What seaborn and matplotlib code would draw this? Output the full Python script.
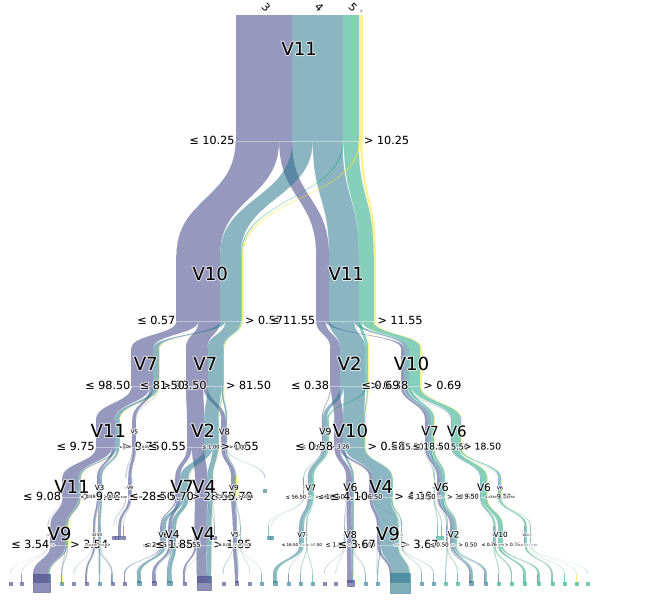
import numpy as np
import pandas as pd
import matplotlib
matplotlib.use("Agg")
import matplotlib.pyplot as plt
import seaborn as sns
from matplotlib.path import Path
from matplotlib.patches import PathPatch, Rectangle
import matplotlib.patheffects as pe

# ---------------- data ----------------
class_names = ["3", "4", "5", "6"]

# internal (split) nodes, identified by their path from the root (L = "<=", R = ">")
split_path = [
    "", "L", "LL", "LLL", "LLLL", "LLLLL", "LLLLR", "LLLR", "LLLRL", "LLLRR",
    "LLR", "LLRL", "LLRR",
    "LR", "LRL", "LRLL", "LRLLL", "LRLLR", "LRLR", "LRLRL",
    "LRR", "LRRL", "LRRLL", "LRRLR",
    "R", "RL", "RLL", "RLLL", "RLLR", "RLLRL", "RLLRR",
    "RLR", "RLRL", "RLRLL", "RLRLR", "RLRR", "RLRRL", "RLRRR",
    "RR", "RRL", "RRLL", "RRLR", "RRLRL", "RRLRR",
    "RRR", "RRRL", "RRRLL", "RRRLR", "RRRR", "RRRRL", "RRRRR",
]
split_feature = [
    "V11", "V10", "V7", "V11", "V11", "V10", "V9", "V3", "V2", "V3",
    "V5", "V1", "V9",
    "V7", "V2", "V7", "V6", "V4", "V4", "V4",
    "V8", "V9", "V5", "V7",
    "V11", "V2", "V9", "V7", "V7", "V7", "V3",
    "V10", "V6", "V2", "V8", "V4", "V9", "V1",
    "V10", "V7", "V10", "V6", "V9", "V2",
    "V6", "V6", "V5", "V10", "V6", "V11", "V3",
]
split_threshold = [
    10.25, 0.57, 98.50, 9.75, 9.08, 0.52, 3.54, 0.19, 0.62, 0.30,
    0.09, 7.45, 3.29,
    81.50, 0.55, 28.50, 1.50, 2.55, 5.70, 1.85,
    1.00, 2.94, 0.08, 14.50,
    11.55, 0.38, 3.26, 12.50, 56.50, 16.50, 0.33,
    0.58, 16.50, 0.41, 1.00, 4.10, 3.67, 11.65,
    0.69, 15.50, 0.78, 13.50, 3.36, 0.50,
    18.50, 9.50, 0.06, 0.76, 27.50, 12.95, 0.45,
]

# leaves and their class counts
leaf_path = [
    "LLLLLL", "LLLLLR", "LLLLRL", "LLLLRR", "LLLRLL", "LLLRLR", "LLLRRL", "LLLRRR",
    "LLRLL", "LLRLR", "LLRRL", "LLRRR",
    "LRLLLL", "LRLLLR", "LRLLRL", "LRLLRR", "LRLRLL", "LRLRLR", "LRLRR",
    "LRRLLL", "LRRLLR", "LRRLRL", "LRRLRR", "LRRR",
    "RLLLL", "RLLLR", "RLLRLL", "RLLRLR", "RLLRRL", "RLLRRR",
    "RLRLLL", "RLRLLR", "RLRLRL", "RLRLRR", "RLRRLL", "RLRRLR", "RLRRRL", "RLRRRR",
    "RRLLL", "RRLLR", "RRLRLL", "RRLRLR", "RRLRRL", "RRLRRR",
    "RRRLLL", "RRRLLR", "RRRLRL", "RRRLRR", "RRRRLL", "RRRRLR", "RRRRRL", "RRRRRR",
]
leaf_c3 = [2, 3, 185, 6, 3, 20, 3, 8,
           3, 3, 32, 4,
           10, 8, 32, 10, 25, 125, 5,
           5, 40, 2, 2, 4,
           1, 1, 4, 1, 2, 1,
           4, 2, 57, 4, 5, 33, 1, 3,
           2, 2, 2, 2, 15, 12,
           1, 1, 1, 1, 1, 0, 0, 1]
leaf_c4 = [2, 1, 20, 8, 3, 4, 16, 5,
           2, 1, 3, 1,
           8, 40, 10, 45, 6, 55, 5,
           3, 7, 2, 3, 5,
           3, 2, 35, 4, 4, 3,
           2, 2, 19, 5, 12, 210, 6, 5,
           3, 2, 3, 2, 22, 13,
           1, 2, 2, 2, 2, 1, 1, 1]
leaf_c5 = [0, 0, 0, 1, 0, 0, 1, 1,
           0, 0, 0, 0,
           1, 4, 0, 3, 0, 2, 0,
           0, 1, 0, 0, 1,
           1, 2, 14, 2, 2, 3,
           0, 0, 1, 0, 2, 9, 1, 1,
           4, 5, 6, 5, 8, 10,
           8, 14, 30, 25, 18, 6, 4, 3]
leaf_c6 = [0, 1, 6, 1, 0, 1, 0, 1,
           0, 1, 1, 0,
           0, 1, 1, 0, 1, 3, 0,
           0, 1, 1, 0, 0,
           0, 0, 1, 0, 0, 0,
           1, 0, 2, 1, 0, 3, 0, 1,
           0, 1, 0, 1, 1, 2,
           1, 2, 3, 3, 2, 1, 1, 1]

# ---------------- build tree ----------------
leaf_df = pd.DataFrame({"path": leaf_path, "c3": leaf_c3, "c4": leaf_c4,
                        "c5": leaf_c5, "c6": leaf_c6})
cls_cols = ["c3", "c4", "c5", "c6"]
split_info = {p: (f, t) for p, f, t in zip(split_path, split_feature, split_threshold)}
leaf_set = set(leaf_path)
all_paths = list(split_path) + list(leaf_path)

counts = {}
for p in all_paths:
    sub = leaf_df[leaf_df["path"].str.startswith(p)]
    counts[p] = sub[cls_cols].sum().to_numpy().astype(float)

# ---------------- style ----------------
sns.set_theme(style="white")
plt.rcParams["font.family"] = ["DejaVu Sans"]
cmap = sns.color_palette("viridis", as_cmap=True)
class_colors = [cmap(v) for v in (0.2, 0.4, 0.6, 1.0)]
ALPHA = 0.55

W, H = 664, 600
fig = plt.figure(figsize=(W / 100, H / 100), dpi=100)
ax = fig.add_axes([0, 0, 1, 1])
ax.set_xlim(0, W)
ax.set_ylim(H, 0)
ax.axis("off")

root_total = counts[""].sum()
scale = 127.0 / root_total  # px per sample

level_top = [15, 255, 348, 420, 478, 526, 574]
level_split = [141, 321, 386, 447, 497, 545]
level_label = [50, 275, 365, 432, 488, 535]
leaf_center = {3: 432, 4: 490, 5: 537, 6: 583}
max_depth = 6

# ---------------- layout ----------------
width = {p: counts[p].sum() * scale for p in all_paths}
leaves_sorted = sorted(leaf_path)
bottom = [p for p in leaves_sorted if len(p) == max_depth]
bw = np.array([width[p] for p in bottom])
x_lo, x_hi = 10.0, 588.0
inner_w = bw.sum() - bw[0] / 2 - bw[-1] / 2
gap = (x_hi - x_lo - inner_w) / (len(bottom) - 1)
leafx = {}
cur = x_lo
for i, p in enumerate(bottom):
    if i > 0:
        cur += bw[i - 1] / 2 + gap + bw[i] / 2
    leafx[p] = cur

i = 0
while i < len(leaves_sorted):
    if leaves_sorted[i] in leafx:
        i += 1
        continue
    j = i
    while j < len(leaves_sorted) and leaves_sorted[j] not in leafx:
        j += 1
    a = leafx[leaves_sorted[i - 1]] if i > 0 else x_lo
    b = leafx[leaves_sorted[j]] if j < len(leaves_sorted) else x_hi
    m = j - i
    for k in range(m):
        leafx[leaves_sorted[i + k]] = a + (b - a) * (k + 1) / (m + 1)
    i = j

chain = dict(leafx)


def chain_x(p):
    if p in chain:
        return chain[p]
    if p == "":
        v = (x_lo + x_hi) / 2
    else:
        v = chain_x(p + ("R" if p.endswith("L") else "L"))
    chain[p] = v
    return v


for p in all_paths:
    chain_x(p)

xpos = {}
for p in sorted(all_paths, key=len):
    if p in leaf_set:
        xpos[p] = leafx[p]
    elif p == "":
        xpos[p] = chain[p]
    else:
        pull = min(0.6, float(np.exp(-counts[p].sum() / 300.0)))
        xpos[p] = chain[p] + pull * (xpos[p[:-1]] - chain[p])


def pava(v):
    blocks = []
    for val in v:
        blocks.append([val, 1.0])
        while len(blocks) > 1 and blocks[-2][0] / blocks[-2][1] > blocks[-1][0] / blocks[-1][1]:
            s, n = blocks.pop()
            blocks[-1][0] += s
            blocks[-1][1] += n
    out = []
    for s, n in blocks:
        out += [s / n] * int(n)
    return np.array(out)


for d in range(max_depth):
    nodes = sorted(p for p in all_paths if len(p) == d)
    if len(nodes) < 2:
        continue
    seps = [(width[a] + width[b]) / 2 + 2.0 for a, b in zip(nodes[:-1], nodes[1:])]
    c = np.concatenate([[0.0], np.cumsum(seps)])
    y = pava(np.array([xpos[p] for p in nodes]) - c) + c
    for p, v in zip(nodes, y):
        xpos[p] = v


def seg_edges(p):
    n = counts[p]
    left = xpos[p] - width[p] / 2
    return left + np.concatenate([[0], np.cumsum(n * scale)])


def band(xa0, xa1, ys, xb0, xb1, yt, color):
    ym = (ys + yt) / 2
    verts = [(xa0, ys), (xa0, ym), (xb0, ym), (xb0, yt),
             (xb1, yt), (xb1, ym), (xa1, ym), (xa1, ys), (xa0, ys)]
    codes = [Path.MOVETO, Path.CURVE4, Path.CURVE4, Path.CURVE4,
             Path.LINETO, Path.CURVE4, Path.CURVE4, Path.CURVE4, Path.CLOSEPOLY]
    ax.add_patch(PathPatch(Path(verts, codes), facecolor=color, edgecolor="none",
                           alpha=ALPHA, lw=0))


halo = [pe.withStroke(linewidth=1.5, foreground="white", alpha=0.7)]
texts = []

for p in all_paths:
    d = len(p)
    e = seg_edges(p)
    n = counts[p]
    x = xpos[p]
    w = width[p]
    is_leaf = p in leaf_set
    y0 = level_top[d]
    y1 = leaf_center[d] if is_leaf else level_split[d]
    for c in range(4):
        if n[c] > 0:
            ax.add_patch(Rectangle((e[c], y0), e[c + 1] - e[c], y1 - y0,
                                   facecolor=class_colors[c], edgecolor="none",
                                   alpha=ALPHA, lw=0))
    if is_leaf:
        side = max(w, 3.0)
        maj = int(np.argmax(n))
        ax.add_patch(Rectangle((x - side / 2, y1 - side / 2), side, side,
                               facecolor=class_colors[maj], edgecolor=class_colors[maj],
                               alpha=0.6, lw=0.6))
        continue
    nl = counts[p + "L"]
    el = seg_edges(p + "L")
    er = seg_edges(p + "R")
    yt = level_top[d + 1]
    for c in range(4):
        a0 = e[c]
        mid = e[c] + nl[c] * scale
        a1 = e[c + 1]
        if mid - a0 > 0:
            band(a0, mid, y1, el[c], el[c + 1], yt, class_colors[c])
        if a1 - mid > 0:
            band(mid, a1, y1, er[c], er[c + 1], yt, class_colors[c])
    ax.plot([e[0], e[-1]], [y1, y1], color="white", lw=0.5, alpha=0.6)
    feat, thr = split_info[p]
    fs = float(np.clip(n.sum() / 13.0, 1.2, 13))
    texts.append(ax.text(x, level_label[d], feat, ha="center", va="center", fontsize=fs,
                         color="black", path_effects=halo, zorder=5))
    tfs = fs * 0.62
    texts.append(ax.text(e[0] - 1.5, y1, f"\u2264 {thr:.2f}", ha="right", va="center",
                         fontsize=tfs, color="black", path_effects=halo, zorder=5))
    texts.append(ax.text(e[-1] + 1.5, y1, f"> {thr:.2f}", ha="left", va="center",
                         fontsize=tfs, color="black", path_effects=halo, zorder=5))

e = seg_edges("")
for c, name in enumerate(class_names):
    wc = e[c + 1] - e[c]
    ax.text((e[c] + e[c + 1]) / 2, level_top[0] - 2, name, ha="center", va="bottom",
            rotation=-45, fontsize=min(8.0, max(1.5, wc * 0.5)), color="black")

fig.canvas.draw()
renderer = fig.canvas.get_renderer()
for t in texts:
    bb = t.get_window_extent(renderer)
    if bb.x0 < 1:
        xx, yy = t.get_position()
        t.set_position((xx + (1 - bb.x0), yy))
    elif bb.x1 > W - 1:
        xx, yy = t.get_position()
        t.set_position((xx - (bb.x1 - W + 1), yy))

fig.savefig("out.png", dpi=100)
